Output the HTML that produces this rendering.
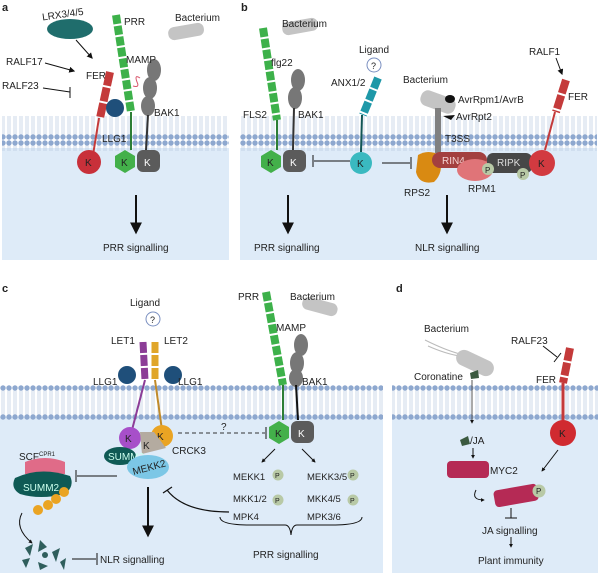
<!DOCTYPE html>
<html><head><meta charset="utf-8"><style>
html,body{margin:0;padding:0;background:#fff}
svg{display:block;font-family:"Liberation Sans",sans-serif}
</style></head><body>
<svg width="600" height="573" viewBox="0 0 600 573" xmlns="http://www.w3.org/2000/svg">
<defs>
<pattern id="mem" x="0" y="0" width="6" height="35" patternUnits="userSpaceOnUse">
<line x1="2" y1="5" x2="2" y2="30" stroke="#b7c8de" stroke-width="0.7"/>
<line x1="4" y1="5" x2="4" y2="30" stroke="#b7c8de" stroke-width="0.7"/>
<circle cx="3" cy="3" r="2.7" fill="#8ea8cf"/>
<circle cx="3" cy="32" r="2.7" fill="#8ea8cf"/>
</pattern>
<marker id="ah" viewBox="0 0 10 10" refX="8" refY="5" markerWidth="6" markerHeight="6" orient="auto"><path d="M0,0L10,5L0,10z" fill="#111"/></marker>
<marker id="ahB" viewBox="0 0 10 10" refX="8" refY="5" markerWidth="4" markerHeight="4" orient="auto"><path d="M0,0L10,5L0,10z" fill="#111"/></marker>
</defs>
<g font-size="10" fill="#222">
<!-- ===== Panel a ===== -->
<rect x="2" y="148" width="227" height="112" fill="#deebf8"/>
<rect x="2" y="116" width="227" height="35" fill="url(#mem)"/>
<text x="2" y="11" font-weight="bold" font-size="11">a</text>
<text x="42" y="18" transform="rotate(-8 60 15)">LRX3/4/5</text>
<ellipse cx="70" cy="29" rx="23" ry="10" fill="#1f6d6c"/>
<line x1="76" y1="40" x2="92" y2="58" stroke="#111" marker-end="url(#ah)"/>
<text x="6" y="65">RALF17</text>
<line x1="45" y1="63" x2="74" y2="71" stroke="#111" marker-end="url(#ah)"/>
<text x="2" y="89">RALF23</text>
<line x1="43" y1="88" x2="70" y2="92" stroke="#111"/><line x1="70" y1="87" x2="70" y2="98" stroke="#111"/>
<text x="86" y="79">FER</text>
<line x1="110" y1="72" x2="100" y2="118" stroke="#c43a3a" stroke-width="8" stroke-dasharray="14 2"/>
<line x1="99" y1="118" x2="93" y2="155" stroke="#c43a3a" stroke-width="2"/>
<circle cx="89" cy="162" r="12" fill="#c8303a"/><text x="85" y="166" fill="#222">K</text>
<line x1="116" y1="15" x2="131" y2="112" stroke="#3db14a" stroke-width="8" stroke-dasharray="9 2"/>
<line x1="131" y1="112" x2="131" y2="150" stroke="#2d7e35" stroke-width="2"/>
<polygon points="125,150 135,156 135,167 125,173 115,167 115,156" fill="#43b04a"/><text x="121" y="166">K</text>
<rect x="137" y="150" width="23" height="22" rx="6" fill="#5b5b5b"/><text x="144" y="166" fill="#fff">K</text>
<ellipse cx="154" cy="70" rx="7" ry="11" fill="#777"/><ellipse cx="150" cy="88" rx="7" ry="11" fill="#777"/><ellipse cx="148" cy="106" rx="7" ry="10" fill="#777"/>
<line x1="148" y1="115" x2="146" y2="150" stroke="#333" stroke-width="2"/>
<circle cx="115" cy="108" r="9" fill="#1f4f7a"/>
<text x="124" y="25">PRR</text><text x="126" y="63">MAMP</text><text x="154" y="116">BAK1</text><text x="102" y="142">LLG1</text>
<path d="M140,78 q-6,-4 -3,4 q3,6 -4,4" stroke="#d9546a" fill="none"/>
<rect x="168" y="25" width="36" height="13" rx="6" fill="#c4c4c4" transform="rotate(-10 186 31)"/>
<text x="175" y="21">Bacterium</text>
<line x1="136" y1="195" x2="136" y2="232" stroke="#111" stroke-width="2" marker-end="url(#ah)"/>
<text x="103" y="251">PRR signalling</text>

<!-- ===== Panel b ===== -->
<rect x="240" y="148" width="357" height="112" fill="#deebf8"/>
<rect x="240" y="116" width="357" height="35" fill="url(#mem)"/>
<text x="241" y="11" font-weight="bold" font-size="11">b</text>
<rect x="282" y="20" width="36" height="13" rx="6" fill="#c4c4c4" transform="rotate(-10 300 26)"/>
<text x="282" y="27">Bacterium</text>
<line x1="263" y1="28" x2="277" y2="120" stroke="#3db14a" stroke-width="8" stroke-dasharray="9 2"/>
<line x1="277" y1="120" x2="277" y2="150" stroke="#2d7e35" stroke-width="2"/>
<polygon points="271,150 281,156 281,167 271,173 261,167 261,156" fill="#43b04a"/><text x="267" y="166">K</text>
<rect x="283" y="150" width="23" height="22" rx="6" fill="#5b5b5b"/><text x="290" y="166" fill="#fff">K</text>
<ellipse cx="298" cy="80" rx="7" ry="11" fill="#777"/><ellipse cx="295" cy="98" rx="7" ry="11" fill="#777"/>
<line x1="294" y1="108" x2="293" y2="150" stroke="#333" stroke-width="2"/>
<text x="271" y="66">flg22</text><text x="243" y="118">FLS2</text><text x="298" y="118">BAK1</text>
<line x1="350" y1="161" x2="314" y2="161" stroke="#111"/><line x1="313" y1="155" x2="313" y2="167" stroke="#111"/>
<text x="359" y="53">Ligand</text>
<circle cx="374" cy="65" r="7" fill="#fff" stroke="#7a8fc0"/><text x="371" y="69" font-size="9">?</text>
<text x="331" y="86">ANX1/2</text>
<line x1="378" y1="78" x2="363" y2="115" stroke="#1e98a8" stroke-width="8" stroke-dasharray="11 2"/>
<line x1="362" y1="115" x2="361" y2="152" stroke="#155" stroke-width="2"/>
<circle cx="361" cy="163" r="11" fill="#3ab9c0"/><text x="357" y="167">K</text>
<line x1="382" y1="163" x2="410" y2="163" stroke="#111"/><line x1="411" y1="157" x2="411" y2="169" stroke="#111"/>
<text x="403" y="83">Bacterium</text>
<rect x="420" y="94" width="36" height="16" rx="7" fill="#c4c4c4" transform="rotate(20 438 102)"/>
<rect x="435" y="108" width="6" height="45" fill="#808080"/>
<text x="445" y="142">T3SS</text>
<ellipse cx="450" cy="99" rx="5" ry="4" fill="#111"/><text x="458" y="103">AvrRpm1/AvrB</text>
<path d="M443,116 l12,-1 l-4,5z" fill="#111"/><text x="456" y="120">AvrRpt2</text>
<path d="M418,155 q10,-6 22,0 q4,18 -6,27 q-15,3 -18,-10z" fill="#d98a12"/>
<text x="404" y="196">RPS2</text>
<rect x="432" y="152" width="55" height="16" rx="8" fill="#a3403f"/><text x="442" y="164" fill="#f5d5d5">RIN4</text>
<ellipse cx="475" cy="170" rx="18" ry="11" fill="#e07478"/><text x="468" y="192">RPM1</text>
<rect x="487" y="153" width="45" height="20" rx="6" fill="#474747"/><text x="497" y="166" fill="#ddd">RIPK</text>
<circle cx="488" cy="169" r="6" fill="#b8c9a6"/><text x="485" y="173" font-size="8">P</text>
<circle cx="523" cy="174" r="6" fill="#b8c9a6"/><text x="520" y="178" font-size="8">P</text>
<circle cx="542" cy="163" r="13" fill="#d23a40"/><text x="538" y="167" fill="#222">K</text>
<text x="529" y="55">RALF1</text>
<line x1="556" y1="58" x2="562" y2="74" stroke="#111" marker-end="url(#ah)"/>
<line x1="566" y1="80" x2="556" y2="112" stroke="#c43a3a" stroke-width="8" stroke-dasharray="14 2"/>
<line x1="555" y1="112" x2="545" y2="150" stroke="#c43a3a" stroke-width="2"/>
<text x="568" y="100">FER</text>
<line x1="288" y1="195" x2="288" y2="232" stroke="#111" stroke-width="2" marker-end="url(#ah)"/>
<text x="254" y="251">PRR signalling</text>
<line x1="447" y1="195" x2="447" y2="232" stroke="#111" stroke-width="2" marker-end="url(#ah)"/>
<text x="415" y="251">NLR signalling</text>

<!-- ===== Panel c ===== -->
<rect x="0" y="417" width="383" height="156" fill="#deebf8"/>
<rect x="0" y="385" width="383" height="35" fill="url(#mem)"/>
<text x="2" y="292" font-weight="bold" font-size="11">c</text>
<text x="130" y="306">Ligand</text>
<circle cx="153" cy="319" r="7" fill="#fff" stroke="#7a8fc0"/><text x="150" y="323" font-size="9">?</text>
<text x="111" y="344">LET1</text><text x="164" y="344">LET2</text>
<line x1="143" y1="342" x2="145" y2="380" stroke="#8c3d97" stroke-width="7" stroke-dasharray="11 2"/>
<line x1="155" y1="342" x2="155" y2="380" stroke="#e0a62a" stroke-width="7" stroke-dasharray="11 2"/>
<line x1="145" y1="380" x2="132" y2="430" stroke="#8c3d97" stroke-width="2"/>
<line x1="155" y1="380" x2="162" y2="430" stroke="#c08a2a" stroke-width="2"/>
<circle cx="127" cy="375" r="9" fill="#1f4f7a"/><circle cx="173" cy="375" r="9" fill="#1f4f7a"/>
<text x="93" y="385">LLG1</text><text x="178" y="385">LLG1</text>
<circle cx="130" cy="438" r="11" fill="#a74fc9"/><text x="125" y="442">K</text>
<circle cx="162" cy="436" r="11" fill="#eaa423"/><text x="157" y="440">K</text>
<path d="M140,432 l14,0 l12,16 l-24,6z" fill="#b4aba0"/><text x="143" y="449">K</text>
<text x="172" y="454">CRCK3</text>
<ellipse cx="120" cy="456" rx="16" ry="9" fill="#0f5a55"/><text x="108" y="460" fill="#cfe">SUMM2</text>
<ellipse cx="148" cy="467" rx="21" ry="12" fill="#7cc7e6"/><text x="132" y="471" transform="rotate(-15 148 467)">MEKK2</text>
<text x="19" y="460" font-size="10">SCF<tspan font-size="6" dy="-4">CPR1</tspan></text>
<path d="M25,462 q20,-8 40,0 l0,12 q-20,2 -40,0z" fill="#e06b88"/>
<path d="M15,478 q25,-12 55,-2 q5,10 -5,18 q-25,6 -45,0 q-10,-6 -5,-16z" fill="#0f5a55"/><text x="23" y="491" fill="#cfe">SUMM2</text>
<circle cx="38" cy="510" r="5" fill="#eaa423"/><circle cx="48" cy="505" r="5" fill="#eaa423"/><circle cx="56" cy="499" r="5" fill="#eaa423"/><circle cx="64" cy="492" r="5" fill="#eaa423"/>
<line x1="117" y1="476" x2="77" y2="476" stroke="#111"/><line x1="76" y1="470" x2="76" y2="482" stroke="#111"/>
<path d="M22,513 q-8,15 10,30" stroke="#111" fill="none" marker-end="url(#ahB)"/>
<g fill="#2f5e5c"><polygon points="25,548 33,544 30,556"/><polygon points="40,540 47,547 38,552"/><circle cx="45" cy="555" r="3"/><polygon points="52,552 60,548 56,562"/><polygon points="22,560 30,558 26,568"/><polygon points="38,562 48,566 40,570"/><polygon points="60,562 66,558 64,570"/></g>
<line x1="72" y1="559" x2="96" y2="559" stroke="#111"/><line x1="97" y1="553" x2="97" y2="565" stroke="#111"/>
<text x="100" y="563">NLR signalling</text>
<line x1="148" y1="487" x2="148" y2="535" stroke="#111" stroke-width="2" marker-end="url(#ah)"/>
<line x1="178" y1="433" x2="265" y2="433" stroke="#333" stroke-dasharray="4 3"/><line x1="266" y1="427" x2="266" y2="439" stroke="#111"/>
<text x="221" y="430">?</text>
<text x="238" y="300">PRR</text>
<line x1="266" y1="292" x2="283" y2="385" stroke="#3db14a" stroke-width="8" stroke-dasharray="9 2"/>
<line x1="283" y1="385" x2="283" y2="420" stroke="#2d7e35" stroke-width="2"/>
<polygon points="279,421 289,427 289,438 279,444 269,438 269,427" fill="#43b04a"/><text x="275" y="437">K</text>
<rect x="291" y="421" width="23" height="22" rx="6" fill="#5b5b5b"/><text x="298" y="437" fill="#fff">K</text>
<ellipse cx="301" cy="345" rx="7" ry="11" fill="#777"/><ellipse cx="297" cy="363" rx="7" ry="11" fill="#777"/><ellipse cx="296" cy="378" rx="7" ry="9" fill="#777"/>
<line x1="296" y1="385" x2="298" y2="420" stroke="#111" stroke-width="2"/>
<text x="276" y="331">MAMP</text><text x="302" y="385">BAK1</text>
<rect x="302" y="300" width="36" height="13" rx="6" fill="#c4c4c4" transform="rotate(15 320 306)"/>
<text x="290" y="300">Bacterium</text>
<line x1="275" y1="449" x2="262" y2="462" stroke="#111" marker-end="url(#ahB)"/>
<line x1="302" y1="449" x2="315" y2="462" stroke="#111" marker-end="url(#ahB)"/>
<g font-size="9.5">
<text x="233" y="480">MEKK1</text><text x="233" y="502">MKK1/2</text><text x="233" y="520">MPK4</text>
<text x="307" y="480">MEKK3/5</text><text x="307" y="502">MKK4/5</text><text x="307" y="520">MPK3/6</text>
</g>
<circle cx="278" cy="475" r="5.5" fill="#b8c9a6"/><text x="275" y="478" font-size="7">P</text>
<circle cx="278" cy="500" r="5.5" fill="#b8c9a6"/><text x="275" y="503" font-size="7">P</text>
<circle cx="353" cy="475" r="5.5" fill="#b8c9a6"/><text x="350" y="478" font-size="7">P</text>
<circle cx="353" cy="500" r="5.5" fill="#b8c9a6"/><text x="350" y="503" font-size="7">P</text>
<path d="M229,512 q-45,0 -62,-22" stroke="#111" fill="none" stroke-width="1.2"/><line x1="163" y1="493" x2="172" y2="487" stroke="#111" stroke-width="1.2"/>
<path d="M220,517 q0,8 30,8 l35,0 q5,0 6,10 q1,-10 6,-10 l35,0 q30,0 30,-8" stroke="#111" fill="none"/>
<text x="253" y="558">PRR signalling</text>

<!-- ===== Panel d ===== -->
<rect x="392" y="417" width="206" height="156" fill="#deebf8"/>
<rect x="392" y="385" width="206" height="35" fill="url(#mem)"/>
<text x="396" y="292" font-weight="bold" font-size="11">d</text>
<text x="424" y="332">Bacterium</text>
<path d="M425,340 q20,10 35,14 M428,346 q18,8 32,10" stroke="#bbb" fill="none"/>
<rect x="455" y="355" width="40" height="16" rx="8" fill="#c4c4c4" transform="rotate(25 475 363)"/>
<text x="414" y="380">Coronatine</text>
<polygon points="470,373 478,370 479,378 471,379" fill="#3b5a40"/>
<line x1="472" y1="380" x2="472" y2="423" stroke="#555" marker-end="url(#ahB)"/>
<polygon points="460,440 468,436 470,444 462,446" fill="#3b5a40"/><text x="470" y="444">/JA</text>
<line x1="473" y1="448" x2="473" y2="458" stroke="#111" marker-end="url(#ahB)"/>
<rect x="447" y="461" width="42" height="17" rx="4" fill="#b52a55"/><text x="490" y="474">MYC2</text>
<path d="M476,490 q-5,10 8,10" stroke="#111" fill="none" marker-end="url(#ahB)"/>
<rect x="494" y="487" width="44" height="17" rx="4" fill="#b52a55" transform="rotate(-10 516 495)"/>
<circle cx="539" cy="491" r="6.5" fill="#b8c9a6"/><text x="536" y="494" font-size="8">P</text>
<text x="511" y="344">RALF23</text>
<line x1="543" y1="346" x2="557" y2="357" stroke="#111"/><line x1="554" y1="362" x2="561" y2="353" stroke="#111"/>
<line x1="570" y1="348" x2="563" y2="383" stroke="#c43a3a" stroke-width="8" stroke-dasharray="13 2"/>
<line x1="563" y1="383" x2="563" y2="425" stroke="#c43a3a" stroke-width="3"/>
<text x="536" y="383">FER</text>
<circle cx="563" cy="433" r="13" fill="#d02a30"/><text x="559" y="437">K</text>
<line x1="558" y1="450" x2="542" y2="471" stroke="#111" marker-end="url(#ahB)"/>
<line x1="511" y1="508" x2="511" y2="518" stroke="#111"/><line x1="505" y1="518" x2="517" y2="518" stroke="#111"/>
<text x="482" y="534">JA signalling</text>
<line x1="511" y1="537" x2="511" y2="547" stroke="#111" marker-end="url(#ahB)"/>
<text x="478" y="564">Plant immunity</text>
</g>
</svg>
</body></html>
